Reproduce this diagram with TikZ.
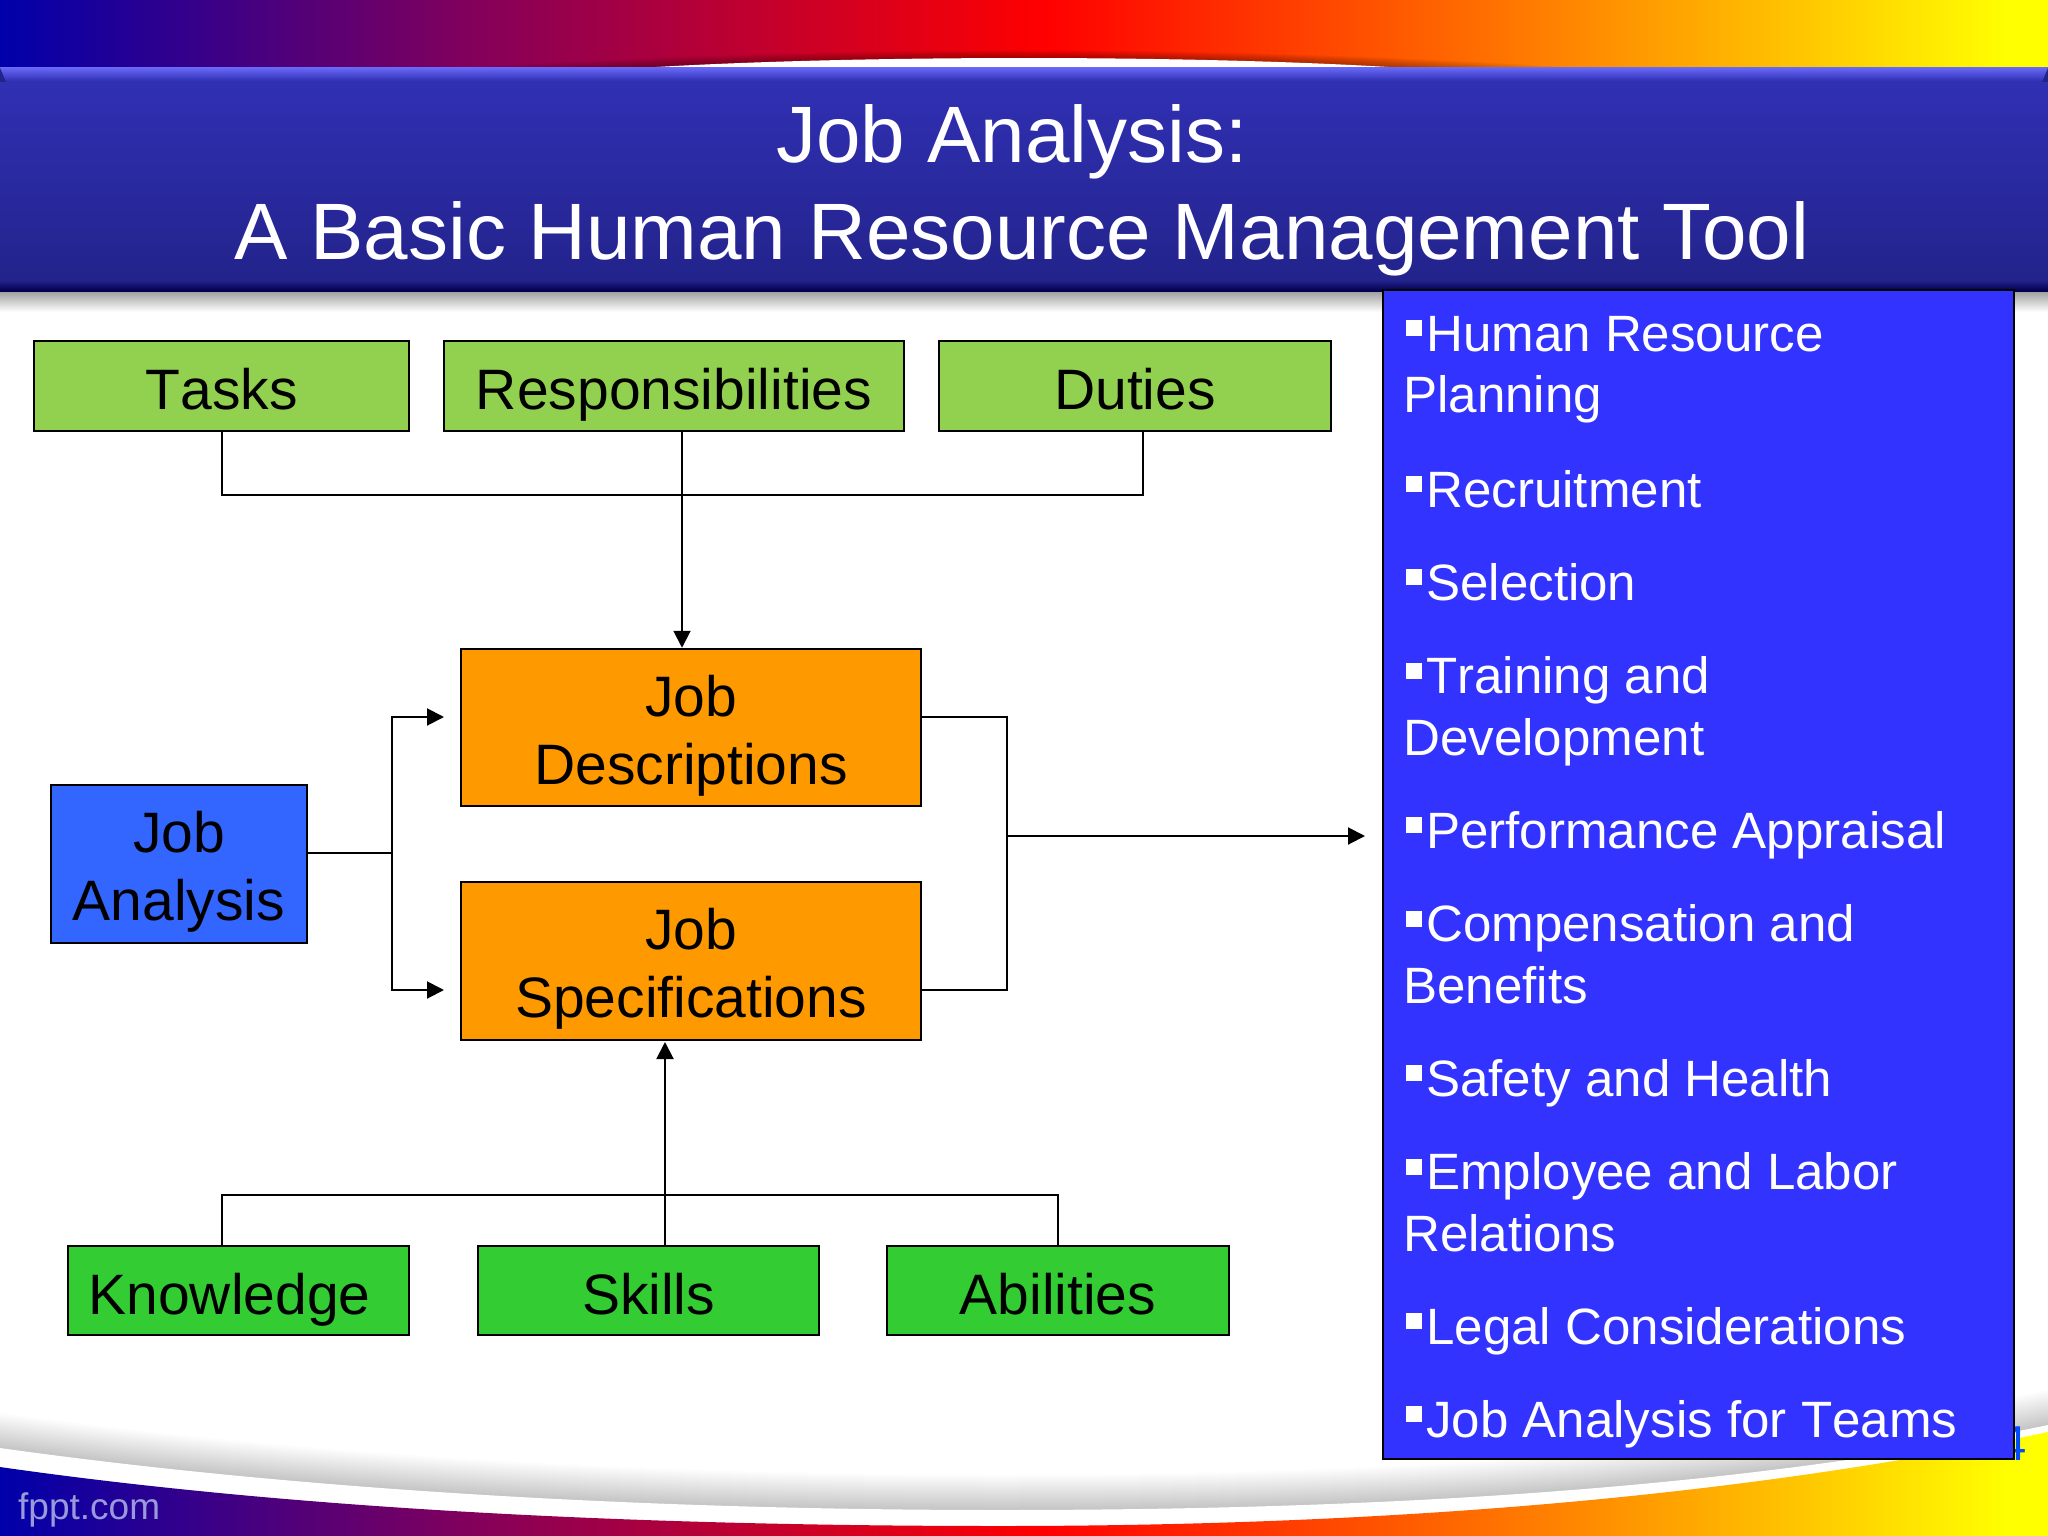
\documentclass[tikz,border=0pt]{standalone}
\usepackage{fontspec}
\setmainfont{Liberation Sans}
\newfontfamily\nokern[Kerning=Off]{Liberation Sans}
\usetikzlibrary{arrows.meta}
\definecolor{bandTop}{HTML}{3030B4}
\definecolor{bandBot}{HTML}{23238C}
\definecolor{bandHi}{HTML}{6666F5}
\definecolor{greenA}{HTML}{92D050}
\definecolor{greenB}{HTML}{33CC33}
\definecolor{orangeBox}{HTML}{FF9900}
\definecolor{blueBox}{HTML}{3366FF}
\definecolor{panelBlue}{HTML}{3333FF}
\definecolor{rainA}{HTML}{0000AA}
\definecolor{rainB}{HTML}{880058}
\definecolor{rainC}{HTML}{FF0000}
\definecolor{rainD}{HTML}{FF6C00}
\definecolor{rainE}{HTML}{FFFF00}
\pgfdeclarehorizontalshading{rainbow}{100bp}{
 color(0bp)=(rainA);
 color(25bp)=(rainA);
 color(37bp)=(rainB);
 color(50.5bp)=(rainC);
 color(61bp)=(rainD);
 color(74bp)=(rainE);
 color(100bp)=(rainE)}
\newcommand{\bottomcurve}[1]{(0,1448-#1) .. controls (300,1490-#1) and (650,1510-#1) .. (1000,1510-#1) .. controls (1400,1510-#1) and (1750,1487-#1) .. (2048,1425-#1)}
\newcommand{\pbullet}{\hspace*{3pt}\rule[15pt]{16pt}{16pt}\hspace{4pt}}
\tikzset{
 x=1pt,y=-1pt,
 box/.style={draw=black,line width=2.5pt,inner sep=0pt,align=center,text=black,font=\nokern\fontsize{57}{68}\selectfont},
 single/.style={text height=47pt,text depth=0pt},
 double/.style={text height=113pt,text depth=0pt},
 taskbox/.style={box,single,fill=greenA},
 skillbox/.style={box,single,fill=greenB},
 jobbox/.style={box,double,fill=orangeBox},
 rootbox/.style={box,double,fill=blueBox},
 titletext/.style={inner sep=0pt,anchor=base,text=white,font=\fontsize{80}{96}\selectfont},
 pitem/.style={inner sep=0pt,anchor=base west,align=left,text=white,font=\nokern\fontsize{51.1}{61.4}\selectfont},
 link/.style={line width=2pt,draw=black},
 linkarrow/.style={link,-{Triangle[length=17pt,width=17pt]}}
}
\begin{document}
\begin{tikzpicture}
\useasboundingbox (0,0) rectangle (2048,1536);
\fill[white] (0,0) rectangle (2048,1536);
% top rainbow strip
\shade[shading=rainbow] (0,0) rectangle (2048,68);
\begin{scope}
 \clip (0,0) rectangle (2048,68);
 \foreach \k in {8,7,...,1}{
  \fill[black,opacity=0.045] (640-22*\k,68) .. controls (850,54.7-1.3*\k) and (1200,54.7-1.3*\k) .. (1404+22*\k,68) -- cycle;
 }
 \fill[white] (640,68) .. controls (850,54.7) and (1200,54.7) .. (1404,68) -- cycle;
\end{scope}
% bottom swoosh
\foreach \k in {36,35,...,0}{
 \pgfmathsetmacro{\g}{23-\k*23/36}
 \fill[black!\g!white] \bottomcurve{\k} -- (2048,1536) -- (0,1536) -- cycle;
}
\fill[white] \bottomcurve{0} -- (2048,1536) -- (0,1536) -- cycle;
\shade[shading=rainbow] (0,1467) .. controls (300,1510) and (650,1526) .. (1000,1526) .. controls (1400,1526) and (1750,1495) .. (2048,1432) -- (2048,1536) -- (0,1536) -- cycle;
\node[inner sep=0pt,anchor=base west,text=black!35!blue!40!white,font=\fontsize{37}{44}\selectfont] (fppt) at (18,1519) {fppt.com};
% title band
\shade[top color=black!40!white,bottom color=white] (0,290) rectangle (2048,312);
\shade[top color=bandTop,bottom color=bandBot] (0,80) rectangle (2048,280);
\shade[top color=bandHi,bottom color=bandTop] (0,68) rectangle (2048,81);
\shade[top color=bandBot,bottom color=black!70!blue] (0,280) rectangle (2048,291);
\fill[bandBot] (0,68) -- (6,82) -- (0,82) -- cycle;
\fill[bandBot] (2048,68) -- (2042,82) -- (2048,82) -- cycle;
\node[titletext] (title1) at (1012,163) {Job Analysis:};
\node[titletext] (title2) at (1022,259) {A Basic Human Resource Management Tool};
% page number, partly behind the panel
\node[inner sep=0pt,anchor=base east,text=blue!70!cyan,font=\fontsize{49}{58}\selectfont] (pagenum) at (2027,1460) {4};
% right panel
\node[draw=black,line width=2.5pt,fill=panelBlue,minimum width=631pt,minimum height=1169pt,inner sep=0pt] (panel) at (1698.5,874.5) {};
\node[pitem] (p1) at (1403,412.4) {\pbullet Human Resource\\Planning};
\node[pitem] (p2) at (1403,507) {\pbullet Recruitment};
\node[pitem] (p3) at (1403,600) {\pbullet Selection};
\node[pitem] (p4) at (1403,755) {\pbullet Training and\\Development};
\node[pitem] (p5) at (1403,848) {\pbullet Performance Appraisal};
\node[pitem] (p6) at (1403,1003) {\pbullet Compensation and\\Benefits};
\node[pitem] (p7) at (1403,1096) {\pbullet Safety and Health};
\node[pitem] (p8) at (1403,1251) {\pbullet Employee and Labor\\Relations};
\node[pitem] (p9) at (1403,1344) {\pbullet Legal Considerations};
\node[pitem] (p10) at (1403,1437) {\pbullet Job Analysis for Teams};
% boxes
\node[taskbox,minimum width=375pt,minimum height=90pt] (tasks) at (221.5,386) {Tasks};
\node[taskbox,minimum width=460pt,minimum height=90pt] (resp) at (674,386) {Responsibilities};
\node[taskbox,minimum width=392pt,minimum height=90pt] (duties) at (1135,386) {Duties};
\node[jobbox,minimum width=460pt,minimum height=157pt] (jd) at (691,727.5) {Job\\Descriptions};
\node[jobbox,minimum width=460pt,minimum height=158pt] (js) at (691,961) {Job\\Specifications};
\node[rootbox,minimum width=256pt,minimum height=158pt] (ja) at (179,864) {Job\\Analysis};
\node[skillbox,minimum width=341pt,minimum height=89pt] (know) at (238.5,1290.5) {Knowledge\hspace{18pt}};
\node[skillbox,minimum width=341pt,minimum height=89pt] (skills) at (648.5,1290.5) {Skills};
\node[skillbox,minimum width=342pt,minimum height=89pt] (abil) at (1058,1290.5) {Abilities};
% helper points
\coordinate (busTop) at (682,495);
\coordinate (dutyDrop) at (1143,431);
\coordinate (jaFork) at (392,853);
\coordinate (jdIn) at (444,717);
\coordinate (jsIn) at (444,990);
\coordinate (merge) at (1007,836);
\coordinate (panelIn) at (1365,836);
\coordinate (busBot) at (665,1195);
\coordinate (knowRise) at (222,1246);
\coordinate (jsOut) at (921,990);
\coordinate (jdOut) at (921,717);
\coordinate (jsUp) at (665,1042);
% top connectors
\draw[link] (tasks.south) |- (busTop);
\draw[link] (dutyDrop) |- (busTop);
\draw[linkarrow] (resp.south -| busTop) -- (jd.north -| busTop);
% job analysis fork
\draw[link] (ja.east |- jaFork) -- (jaFork);
\draw[linkarrow] (jaFork) |- (jdIn);
\draw[linkarrow] (jaFork) |- (jsIn);
% merge to panel
\draw[link] (jdOut) -| (merge);
\draw[link] (jsOut) -| (merge);
\draw[linkarrow] (merge) -- (panelIn);
% bottom connectors
\draw[link] (knowRise) |- (busBot);
\draw[link] (abil.north) |- (busBot);
\draw[linkarrow] (skills.north -| busBot) -- (jsUp);
\end{tikzpicture}
\end{document}
